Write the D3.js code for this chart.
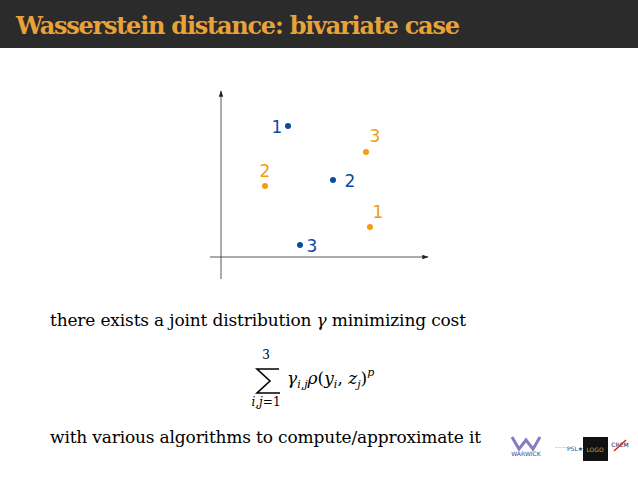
<!DOCTYPE html>
<html><head><meta charset="utf-8">
<script src="https://cdn.jsdelivr.net/npm/d3@7"></script>
<style>body{margin:0;background:#fff}</style>
</head><body>
<svg id="slide" width="638" height="479"></svg>
<script>
// point sets
var blueLabels = ["1", "2", "3"];
var blueX = [3.35, 5.6, 3.95];
var blueY = [6.55, 3.85, 0.6];
var orangeLabels = ["1", "2", "3"];
var orangeX = [7.45, 2.2, 7.25];
var orangeY = [1.5, 3.55, 5.25];

var svg = d3.select("#slide");
svg.append("rect").attr("width", 638).attr("height", 48).attr("fill", "#2b2b2b");
svg.append("text").attr("x", 16).attr("y", 34).attr("fill", "#e8a23a")
  .attr("font-size", 24).attr("font-weight", "bold").attr("font-family", "DejaVu Serif, serif")
  .attr("textLength", 444)
  .text("Wasserstein distance: bivariate case");

var x = d3.scaleLinear().domain([0, 10]).range([221, 421]);
var y = d3.scaleLinear().domain([0, 10]).range([257, 57]);

var defs = svg.append("defs");
defs.append("marker").attr("id", "arr").attr("viewBox", "0 0 10 10").attr("refX", 9).attr("refY", 5)
  .attr("markerWidth", 7).attr("markerHeight", 7).attr("orient", "auto")
  .append("path").attr("d", "M0,1.5L10,5L0,8.5Z").attr("fill", "#222");
svg.append("line").attr("x1", x(0)).attr("x2", x(0)).attr("y1", 279).attr("y2", 91)
  .attr("stroke", "#444").attr("stroke-width", 0.9).attr("marker-end", "url(#arr)");
svg.append("line").attr("x1", 210).attr("x2", 428).attr("y1", y(0)).attr("y2", y(0))
  .attr("stroke", "#444").attr("stroke-width", 0.9).attr("marker-end", "url(#arr)");

function drawSet(xs, ys, labels, color, offs) {
  var g = svg.append("g");
  xs.forEach(function(v, i) {
    g.append("circle").attr("cx", x(v)).attr("cy", y(ys[i])).attr("r", 3).attr("fill", color);
    g.append("text").attr("x", x(v) + offs[i][0]).attr("y", y(ys[i]) + offs[i][1])
      .attr("fill", color).attr("font-size", 17).attr("font-family", "DejaVu Sans, sans-serif")
      .attr("text-anchor", "middle").text(labels[i]);
  });
}
drawSet(blueX, blueY, blueLabels, "#0d4aa0", [[-11, 7], [17, 7], [12, 7]]);
drawSet(orangeX, orangeY, orangeLabels, "#f49b0e", [[8, -9], [0, -9], [9, -10]]);

svg.append("text").attr("x", 50).attr("y", 326).attr("font-size", 17)
  .attr("font-family", "DejaVu Serif, serif").attr("textLength", 416)
  .html('there exists a joint distribution <tspan font-style="italic">γ</tspan> minimizing cost');

var f = svg.append("g").attr("font-family", "DejaVu Serif, serif");
f.append("text").attr("x", 266).attr("y", 359).attr("font-size", 12).attr("text-anchor", "middle").text("3");
f.append("path").attr("d", "M279,369L257,369L270,381L257,393L280,393")
  .attr("fill", "none").attr("stroke", "#000").attr("stroke-width", 1.6);
f.append("text").attr("x", 266).attr("y", 406).attr("font-size", 12).attr("text-anchor", "middle")
  .html('<tspan font-style="italic">i,j</tspan>=1');
f.append("text").attr("x", 287).attr("y", 384).attr("font-size", 17)
  .html('<tspan font-style="italic">γ</tspan><tspan font-size="11" font-style="italic" dy="4">i,j</tspan><tspan dy="-4" font-style="italic">ρ</tspan>(<tspan font-style="italic">y</tspan><tspan font-size="11" font-style="italic" dy="4">i</tspan><tspan dy="-4">, </tspan><tspan font-style="italic">z</tspan><tspan font-size="11" font-style="italic" dy="4">j</tspan><tspan dy="-4">)</tspan><tspan font-size="11" font-style="italic" dy="-8">p</tspan>');

svg.append("text").attr("x", 50).attr("y", 443).attr("font-size", 17)
  .attr("font-family", "DejaVu Serif, serif").attr("textLength", 431)
  .text("with various algorithms to compute/approximate it");

// logos (rough)
var lg = svg.append("g").attr("font-family", "DejaVu Sans, sans-serif");
lg.append("path").attr("d", "M512,437L519,449L526,440L533,449L540,437").attr("fill", "none")
  .attr("stroke", "#8a7bc0").attr("stroke-width", 3);
lg.append("text").attr("x", 526).attr("y", 456).attr("font-size", 6).attr("fill", "#4a3e8a").attr("text-anchor", "middle").text("WARWICK");
lg.append("text").attr("x", 555).attr("y", 449).attr("font-size", 4).attr("fill", "#4a78b8").text("~~~~");
lg.append("text").attr("x", 567).attr("y", 451).attr("font-size", 6).attr("fill", "#2a4a8a").text("PSL★");
lg.append("rect").attr("x", 583).attr("y", 437).attr("width", 25).attr("height", 24).attr("fill", "#111");
lg.append("text").attr("x", 595).attr("y", 452).attr("font-size", 6).attr("fill", "#c8a050").attr("text-anchor", "middle").text("LOGO");
lg.append("text").attr("x", 620).attr("y", 447).attr("font-size", 6).attr("fill", "#223").attr("text-anchor", "middle").text("CREM");
lg.append("line").attr("x1", 614).attr("x2", 626).attr("y1", 451).attr("y2", 440).attr("stroke", "#d22").attr("stroke-width", 1.5);
</script>
</body></html>
